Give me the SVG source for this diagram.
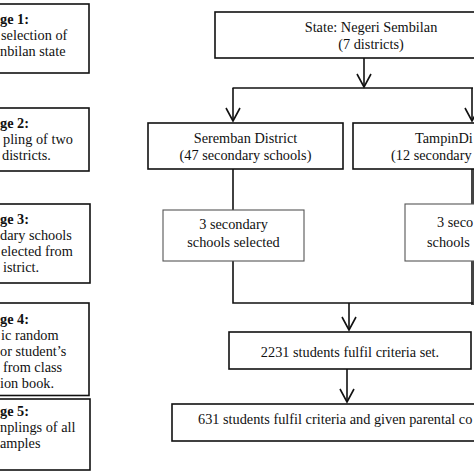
<svg xmlns="http://www.w3.org/2000/svg" width="474" height="474" viewBox="0 0 474 474">
<defs>
<style>
.box{fill:#fff;stroke:#111;stroke-width:1.6}
.thin{fill:#fff;stroke:#555;stroke-width:1.1}
.t{font-family:"Liberation Serif","Times New Roman",serif;font-size:14.3px;fill:#111}
.c{text-anchor:middle}
.b{font-weight:bold}
.ln{stroke:#111;stroke-width:1.6;fill:none}
.gr{stroke:#444;stroke-width:3;fill:none}
</style>
<marker id="v" viewBox="-15 -9 17 18" refX="0" refY="0" markerWidth="17" markerHeight="18" markerUnits="userSpaceOnUse" orient="auto">
<path d="M-13,-7 L0,0 L-13,7" fill="none" stroke="#111" stroke-width="1.6"/>
</marker>
</defs>
<rect width="474" height="474" fill="#fff"/>

<g id="stage1">
<rect class="box" x="-60" y="4" width="149" height="69"/>
<text class="t b" x="0" y="24">ge 1:</text>
<text class="t" x="1" y="40">selection of</text>
<text class="t" x="0" y="56">nbilan state</text>
</g>
<g id="stage2">
<rect class="box" x="-60" y="108" width="149" height="63"/>
<text class="t b" x="0" y="128">ge 2:</text>
<text class="t" x="3" y="144">pling of two</text>
<text class="t" x="2" y="160">districts.</text>
</g>
<g id="stage3">
<rect class="box" x="-60" y="204" width="150" height="79"/>
<text class="t b" x="0" y="224">ge 3:</text>
<text class="t" x="0" y="240">dary schools</text>
<text class="t" x="1" y="256">elected from</text>
<text class="t" x="3" y="272">istrict.</text>
</g>
<g id="stage4">
<rect class="box" x="-60" y="303" width="149" height="92.5"/>
<text class="t b" x="0" y="324">ge 4:</text>
<text class="t" x="1" y="340">ic random</text>
<text class="t" x="0" y="356">or student’s</text>
<text class="t" x="3" y="372">from class</text>
<text class="t" x="0" y="388">ion book.</text>
</g>
<g id="stage5">
<rect class="box" x="-60" y="399" width="150" height="71"/>
<text class="t b" x="0" y="416">ge 5:</text>
<text class="t" x="0" y="432">nplings of all</text>
<text class="t" x="0" y="448">amples</text>
</g>

<g id="connectors">
<line class="ln" x1="364" y1="58" x2="364" y2="87" marker-end="url(#v)"/>
<line class="ln" x1="232.5" y1="88" x2="473" y2="88"/>
<line class="ln" x1="233" y1="88" x2="233" y2="121" marker-end="url(#v)"/>
<line class="ln" x1="472" y1="88" x2="472" y2="121" marker-end="url(#v)"/>
<line class="ln" x1="233" y1="169" x2="233" y2="210"/>
<line class="gr" x1="472.5" y1="169" x2="472.5" y2="305"/>
<polyline class="ln" points="233,261 233,303 473,303"/>
<line class="ln" x1="349" y1="303" x2="349" y2="330" marker-end="url(#v)"/>
<line class="ln" x1="347" y1="369" x2="347" y2="402" marker-end="url(#v)"/>
</g>

<g id="state">
<rect class="box" x="215" y="12" width="300" height="46"/>
<text class="t c" x="371" y="32">State: Negeri Sembilan</text>
<text class="t c" x="371" y="49">(7 districts)</text>
</g>
<g id="seremban">
<rect class="box" x="148" y="123" width="195" height="46"/>
<text class="t c" x="245.5" y="143">Seremban District</text>
<text class="t c" x="245.5" y="160">(47 secondary schools)</text>
</g>
<g id="tampin">
<rect class="box" x="353" y="123" width="220" height="46"/>
<text class="t" x="415" y="143">TampinDi</text>
<text class="t" x="391" y="160">(12 secondary</text>
</g>
<g id="schools1">
<rect class="thin" x="163" y="210" width="141" height="51"/>
<text class="t c" x="233.5" y="229">3 secondary</text>
<text class="t c" x="233.5" y="247">schools selected</text>
</g>
<g id="schools2">
<rect class="thin" x="405" y="204" width="150" height="57"/>
<text class="t" x="437" y="227">3 seco</text>
<text class="t" x="427" y="247">schools</text>
</g>
<g id="students2231">
<rect class="box" x="229" y="332" width="242" height="37"/>
<text class="t c" x="350" y="357">2231 students fulfil criteria set.</text>
</g>
<g id="students631">
<rect class="box" x="172" y="404" width="400" height="37"/>
<text class="t" x="198" y="424">631 students fulfil criteria and given parental co</text>
</g>
</svg>
